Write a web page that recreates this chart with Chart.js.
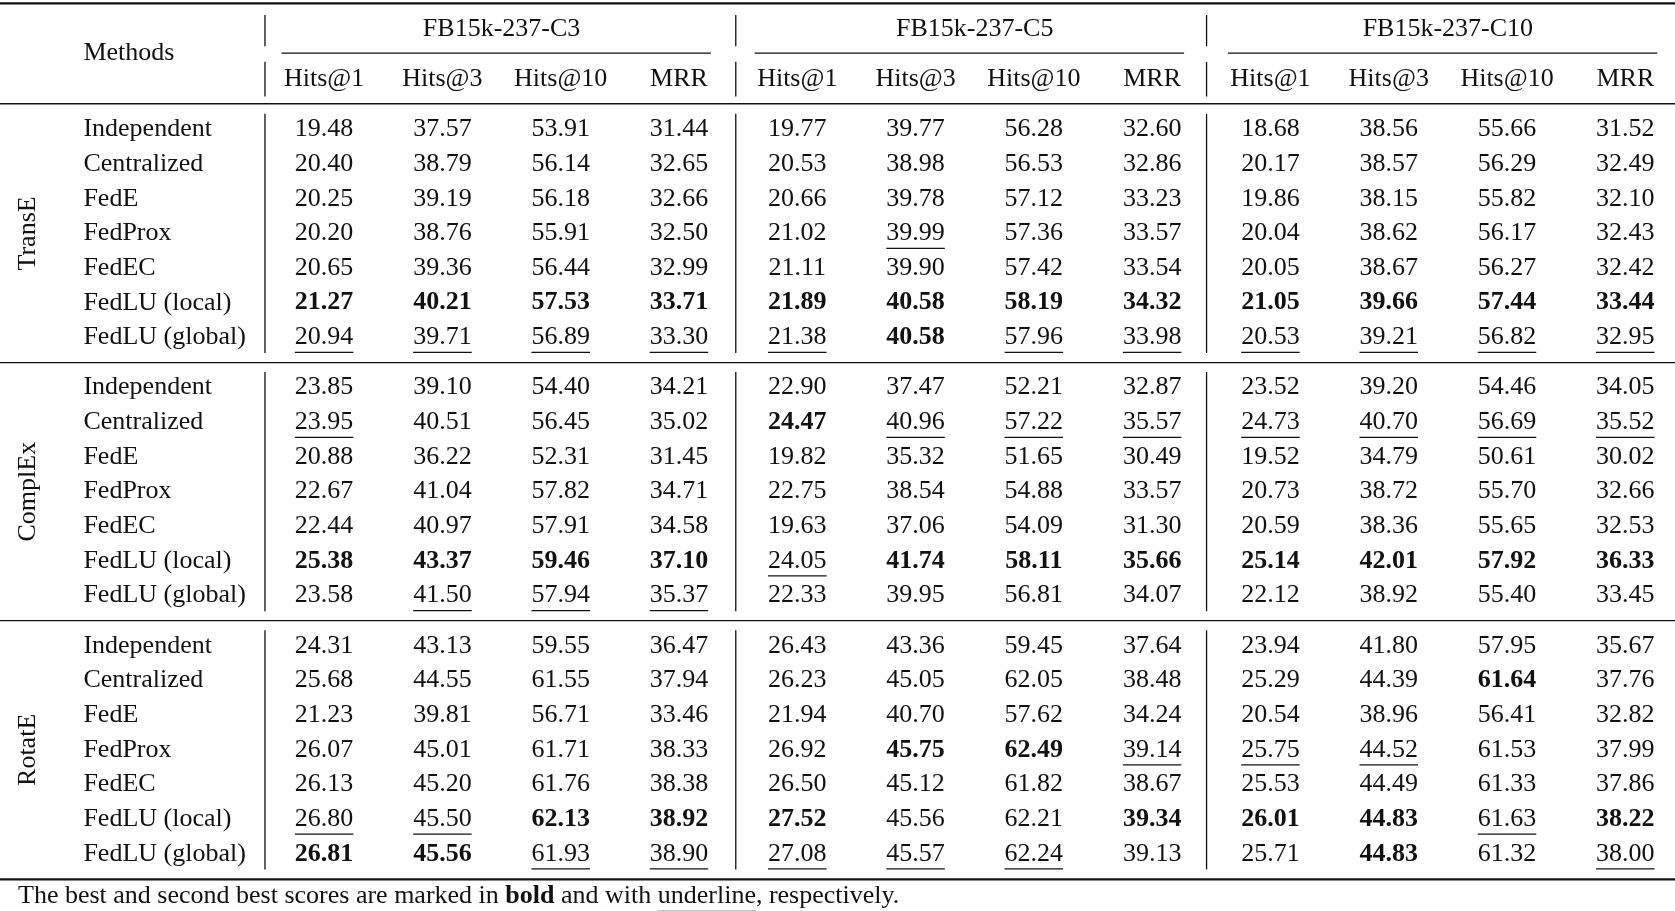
<!DOCTYPE html>
<html>
<head>
<meta charset="utf-8">
<script src="https://cdn.jsdelivr.net/npm/chart.js@4/dist/chart.umd.min.js"></script>
<style>
  html, body { margin: 0; padding: 0; background: #fff; }
  #wrap { width: 1675px; height: 911px; position: relative; }
</style>
</head>
<body>
<div id="wrap"><canvas id="tableChart"></canvas></div>
<script>
// 数据
const datasetNames = ['FB15k-237-C3', 'FB15k-237-C5', 'FB15k-237-C10'];
const metricNames = ['Hits@1', 'Hits@3', 'Hits@10', 'MRR'];
const modelNames = ['TransE', 'ComplEx', 'RotatE'];
const methodNames = ['Independent', 'Centralized', 'FedE', 'FedProx', 'FedEC', 'FedLU (local)', 'FedLU (global)'];

const transeValues = [
  [19.48, 37.57, 53.91, 31.44, 19.77, 39.77, 56.28, 32.60, 18.68, 38.56, 55.66, 31.52],
  [20.40, 38.79, 56.14, 32.65, 20.53, 38.98, 56.53, 32.86, 20.17, 38.57, 56.29, 32.49],
  [20.25, 39.19, 56.18, 32.66, 20.66, 39.78, 57.12, 33.23, 19.86, 38.15, 55.82, 32.10],
  [20.20, 38.76, 55.91, 32.50, 21.02, 39.99, 57.36, 33.57, 20.04, 38.62, 56.17, 32.43],
  [20.65, 39.36, 56.44, 32.99, 21.11, 39.90, 57.42, 33.54, 20.05, 38.67, 56.27, 32.42],
  [21.27, 40.21, 57.53, 33.71, 21.89, 40.58, 58.19, 34.32, 21.05, 39.66, 57.44, 33.44],
  [20.94, 39.71, 56.89, 33.30, 21.38, 40.58, 57.96, 33.98, 20.53, 39.21, 56.82, 32.95]
];
const transeMarks = [
  '............',
  '............',
  '............',
  '.....u......',
  '............',
  'bbbbbbbbbbbb',
  'uuuuubuuuuuu'
];
const complexValues = [
  [23.85, 39.10, 54.40, 34.21, 22.90, 37.47, 52.21, 32.87, 23.52, 39.20, 54.46, 34.05],
  [23.95, 40.51, 56.45, 35.02, 24.47, 40.96, 57.22, 35.57, 24.73, 40.70, 56.69, 35.52],
  [20.88, 36.22, 52.31, 31.45, 19.82, 35.32, 51.65, 30.49, 19.52, 34.79, 50.61, 30.02],
  [22.67, 41.04, 57.82, 34.71, 22.75, 38.54, 54.88, 33.57, 20.73, 38.72, 55.70, 32.66],
  [22.44, 40.97, 57.91, 34.58, 19.63, 37.06, 54.09, 31.30, 20.59, 38.36, 55.65, 32.53],
  [25.38, 43.37, 59.46, 37.10, 24.05, 41.74, 58.11, 35.66, 25.14, 42.01, 57.92, 36.33],
  [23.58, 41.50, 57.94, 35.37, 22.33, 39.95, 56.81, 34.07, 22.12, 38.92, 55.40, 33.45]
];
const complexMarks = [
  '............',
  'u...buuuuuuu',
  '............',
  '............',
  '............',
  'bbbbubbbbbbb',
  '.uuu........'
];
const rotateValues = [
  [24.31, 43.13, 59.55, 36.47, 26.43, 43.36, 59.45, 37.64, 23.94, 41.80, 57.95, 35.67],
  [25.68, 44.55, 61.55, 37.94, 26.23, 45.05, 62.05, 38.48, 25.29, 44.39, 61.64, 37.76],
  [21.23, 39.81, 56.71, 33.46, 21.94, 40.70, 57.62, 34.24, 20.54, 38.96, 56.41, 32.82],
  [26.07, 45.01, 61.71, 38.33, 26.92, 45.75, 62.49, 39.14, 25.75, 44.52, 61.53, 37.99],
  [26.13, 45.20, 61.76, 38.38, 26.50, 45.12, 61.82, 38.67, 25.53, 44.49, 61.33, 37.86],
  [26.80, 45.50, 62.13, 38.92, 27.52, 45.56, 62.21, 39.34, 26.01, 44.83, 61.63, 38.22],
  [26.81, 45.56, 61.93, 38.90, 27.08, 45.57, 62.24, 39.13, 25.71, 44.83, 61.32, 38.00]
];
const rotateMarks = [
  '............',
  '..........b.',
  '............',
  '.....bbuuu..',
  '............',
  'uubbb..bbbub',
  'bbuuuuu..b.u'
];
const modelValues = [transeValues, complexValues, rotateValues];
const modelMarks = [transeMarks, complexMarks, rotateMarks];

// 行位置（单位：行）
const groupStep = 7.45;
const FONT = '"Liberation Serif", "DejaVu Serif", serif';
const FS = 26;

function rowY(g, r) { return g * groupStep + r; }

const tablePlugin = {
  id: 'tablePlugin',
  afterDraw(chart) {
    const ctx = chart.ctx;
    const xs = chart.scales.x, ys = chart.scales.y;
    const px = v => xs.getPixelForValue(v);
    const py = v => ys.getPixelForValue(v);
    ctx.save();
    ctx.fillStyle = '#111';
    ctx.strokeStyle = '#111';
    ctx.textBaseline = 'middle';

    function text(str, x, y, align, bold, underline) {
      ctx.font = (bold ? 'bold ' : '') + FS + 'px ' + FONT;
      ctx.textAlign = align;
      ctx.fillText(str, x, y);
      if (underline) {
        const w = ctx.measureText(str).width;
        const x0 = align === 'center' ? x - w / 2 : x;
        ctx.lineWidth = 1.3;
        ctx.beginPath();
        ctx.moveTo(x0, y + 15);
        ctx.lineTo(x0 + w, y + 15);
        ctx.stroke();
      }
    }
    function hline(y, x0, x1, w) {
      ctx.lineWidth = w;
      ctx.beginPath();
      ctx.moveTo(x0, y);
      ctx.lineTo(x1, y);
      ctx.stroke();
    }
    function vline(x, y0, y1) {
      ctx.lineWidth = 1.3;
      ctx.beginPath();
      ctx.moveTo(x, y0);
      ctx.lineTo(x, y1);
      ctx.stroke();
    }

    // 表头
    text('Methods', px(-2.035), py(-2.2), 'left');
    datasetNames.forEach((name, d) => {
      const c = px(d * 4 + 1.5);
      text(name, c, py(-2.9), 'center');
      hline(py(-2.2), px(d * 4 - 0.36), px(d * 4 + 3.27), 1.3);
      metricNames.forEach((m, k) => text(m, px(d * 4 + k), py(-1.45), 'center'));
    });

    // 竖线
    const sepX = [-0.5, 3.48, 7.46];
    sepX.forEach(s => {
      vline(px(s), py(-3.3), py(-2.4));
      vline(px(s), py(-1.95), py(-0.95));
      for (let g = 0; g < 3; g++) vline(px(s), py(rowY(g, -0.45)), py(rowY(g, 6.45)));
    });

    // 横线
    const left = 0, right = chart.width;
    hline(py(-3.64), left, right, 2.2);
    hline(py(-0.74), left, right, 1.6);
    hline(py(6.73), left, right, 1.3);
    hline(py(14.17), left, right, 1.3);
    hline(py(21.64), left, right, 2.2);

    // 数据
    modelNames.forEach((model, g) => {
      ctx.save();
      ctx.translate(px(-2.5), py(rowY(g, 3)));
      ctx.rotate(-Math.PI / 2);
      text(model, 0, 0, 'center');
      ctx.restore();
      methodNames.forEach((method, r) => {
        const y = py(rowY(g, r));
        text(method, px(-2.035), y, 'left');
        modelValues[g][r].forEach((v, c) => {
          const mk = modelMarks[g][r][c];
          text(v.toFixed(2), px(c), y, 'center', mk === 'b', mk === 'u');
        });
      });
    });

    // 注释
    const fy = py(22.13);
    let x = 18;
    const parts = [['The best and second best scores are marked in ', ''], ['bold', 'b'], [' and with ', ''], ['underline', 'u'], [', respectively.', '']];
    parts.forEach(([s, m]) => {
      text(s, x, fy, 'left', m === 'b', m === 'u');
      ctx.font = (m === 'b' ? 'bold ' : '') + FS + 'px ' + FONT;
      x += ctx.measureText(s).width;
    });
    ctx.restore();
  }
};

function initTable() {
  const ctx = document.getElementById('tableChart').getContext('2d');
  new Chart(ctx, {
    type: 'scatter',
    data: { datasets: [{ data: [] }] },
    options: {
      responsive: true,
      maintainAspectRatio: false,
      animation: false,
      layout: { padding: 0 },
      plugins: { legend: { display: false }, tooltip: { enabled: false } },
      scales: {
        x: { type: 'linear', min: -2.74, max: 11.42, display: false },
        y: { type: 'linear', min: -3.735, max: 22.55, reverse: true, display: false }
      }
    },
    plugins: [tablePlugin]
  });
}

document.addEventListener('DOMContentLoaded', initTable);
</script>
</body>
</html>
